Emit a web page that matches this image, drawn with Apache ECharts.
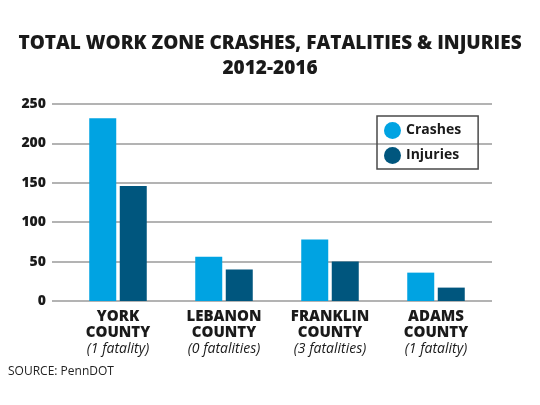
<!DOCTYPE html>
<html>
<head>
<meta charset="utf-8">
<script src="https://cdn.jsdelivr.net/npm/echarts@6/dist/echarts.min.js"></script>
<style>
  html, body { margin: 0; padding: 0; background: #fff; }
  #chart1 { width: 540px; height: 405px; }
</style>
</head>
<body>
<div id="chart1"></div>
<script>
var counties = ['YORK COUNTY', 'LEBANON COUNTY', 'FRANKLIN COUNTY', 'ADAMS COUNTY'];
var fatalityNotes = ['(1 fatality)', '(0 fatalities)', '(3 fatalities)', '(1 fatality)'];
var crashes = [232, 56, 78, 36];
var injuries = [146, 40, 50, 17];
var yMin = 0, yMax = 250, yStep = 50;

var font = '"Open Sans", "Liberation Sans", sans-serif';
var dom = document.getElementById('chart1');
var myChart = echarts.init(dom);

myChart.setOption({
    animation: false,
    title: {
        text: 'TOTAL WORK ZONE CRASHES, FATALITIES & INJURIES\n2012-2016',
        left: 'center',
        top: 26,
        textStyle: {
            fontFamily: font,
            fontWeight: 800,
            fontSize: 19,
            lineHeight: 25,
            color: '#1a1a1a'
        }
    },
    legend: {
        data: ['Crashes', 'Injuries'],
        orient: 'vertical',
        left: 377,
        top: 116,
        icon: 'circle',
        itemWidth: 17,
        itemHeight: 17,
        itemGap: 8,
        padding: [6, 17, 5, 7],
        borderColor: '#4a4a4a',
        borderWidth: 1.5,
        textStyle: {
            fontFamily: font,
            fontWeight: 700,
            fontSize: 14,
            color: '#1a1a1a'
        }
    },
    grid: [
        { left: 52, right: 48, top: 104, bottom: 104 },
        { left: 65, right: 51, top: 104, bottom: 104 }
    ],
    xAxis: [
        { type: 'category', gridIndex: 0, data: counties, show: false },
        {
            type: 'category',
            gridIndex: 1,
            data: counties,
            axisLine: { show: false },
            axisTick: { show: false },
            axisLabel: {
                margin: 7,
                interval: 0,
                formatter: function (value, idx) {
                    var parts = value.split(' ');
                    return '{b|' + parts[0] + '}\n{b|' + parts[1] + '}\n{i|' + fatalityNotes[idx] + '}';
                },
                rich: {
                    b: { fontFamily: font, fontWeight: 800, fontSize: 15, lineHeight: 16.5, color: '#1a1a1a' },
                    i: { fontFamily: font, fontStyle: 'italic', fontSize: 14, lineHeight: 16.5, color: '#1a1a1a' }
                }
            }
        }
    ],
    yAxis: [
        {
            type: 'value',
            gridIndex: 0,
            min: yMin,
            max: yMax,
            interval: yStep,
            axisLine: { show: false },
            axisTick: { show: false },
            axisLabel: {
                margin: 6,
                fontFamily: font,
                fontWeight: 800,
                fontSize: 14,
                color: '#1a1a1a'
            },
            splitLine: { lineStyle: { color: '#9a9a9a', width: 1.5 } }
        },
        {
            type: 'value',
            gridIndex: 1,
            min: yMin,
            max: yMax,
            interval: yStep,
            show: false,
            splitLine: { show: false }
        }
    ],
    series: [
        {
            name: 'Crashes',
            type: 'bar',
            xAxisIndex: 1,
            yAxisIndex: 1,
            barWidth: 27,
            barGap: '13%',
            itemStyle: { color: '#00a3e2' },
            data: crashes
        },
        {
            name: 'Injuries',
            type: 'bar',
            xAxisIndex: 1,
            yAxisIndex: 1,
            barWidth: 27,
            barGap: '13%',
            itemStyle: { color: '#00567e' },
            data: injuries
        }
    ],
    graphic: [
        {
            type: 'text',
            left: 8,
            top: 366,
            style: {
                text: 'SOURCE: PennDOT',
                font: '12px ' + font,
                fill: '#222'
            }
        }
    ]
});
</script>
</body>
</html>
